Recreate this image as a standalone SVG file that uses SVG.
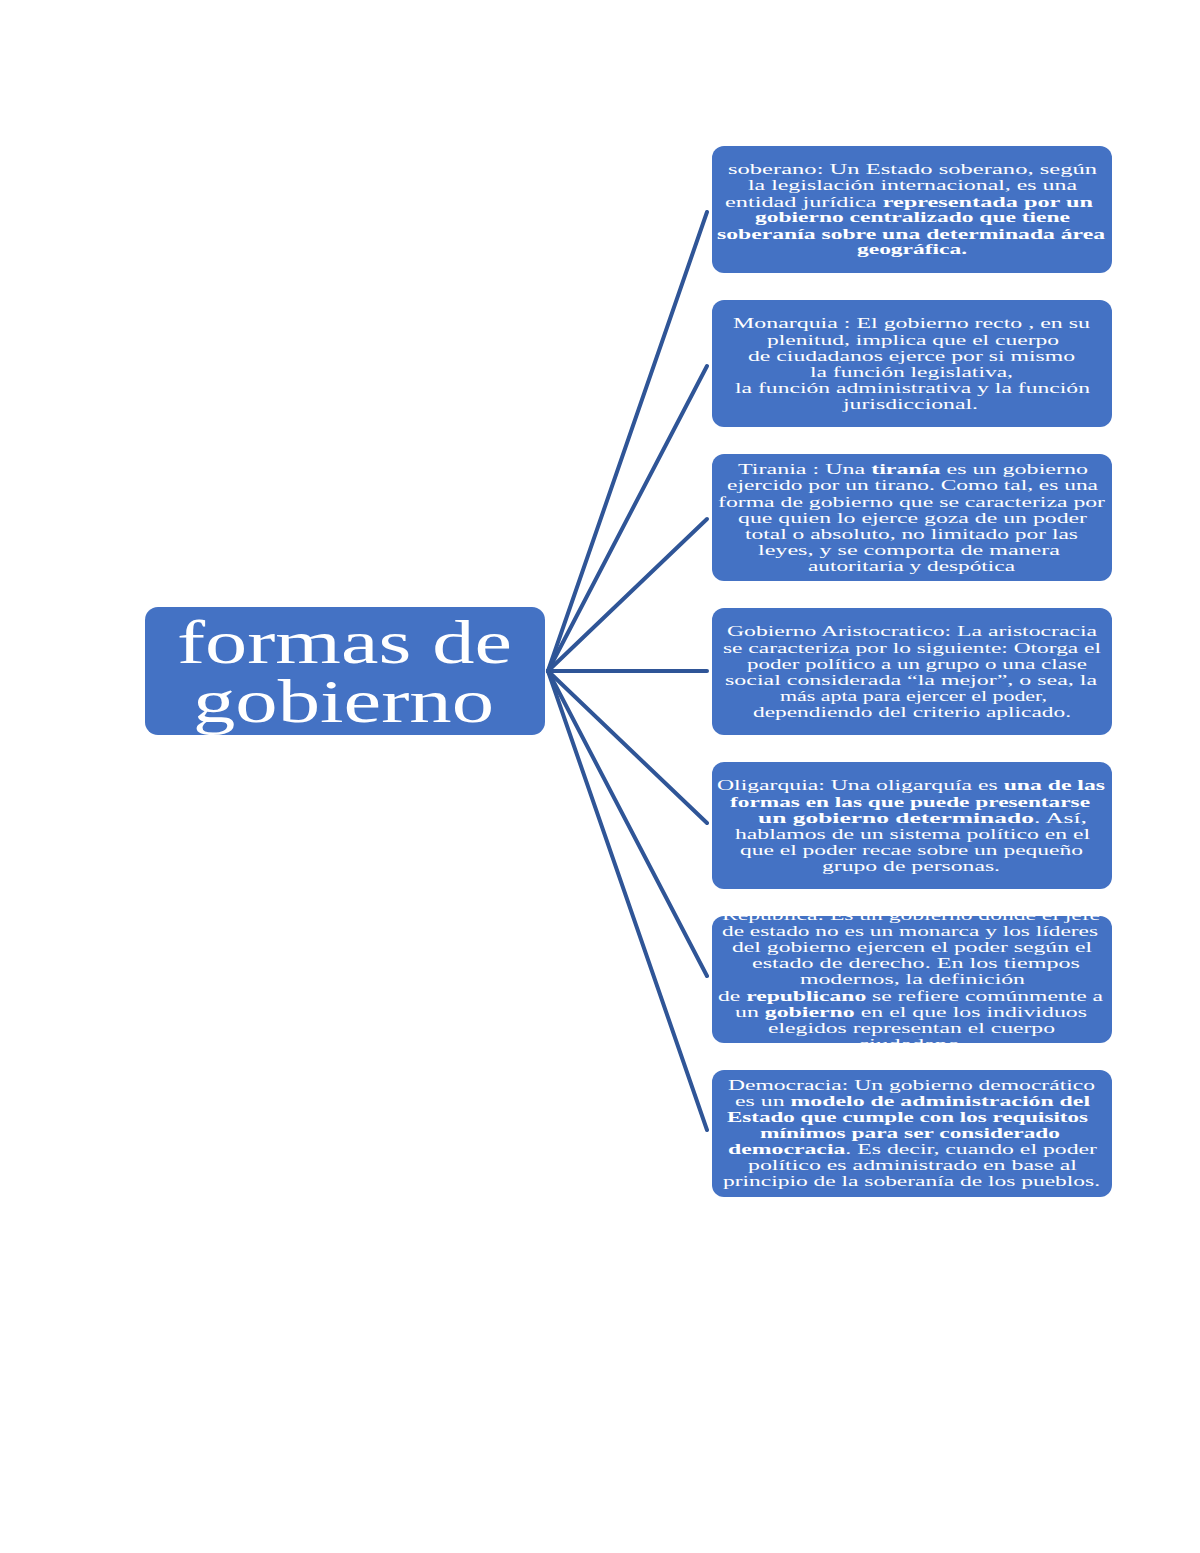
<svg xmlns="http://www.w3.org/2000/svg" width="1200" height="1553" viewBox="0 0 1200 1553">
<style>
.box{fill:#4472C4;}
.conn{stroke:#2F5597;stroke-width:4;fill:none;stroke-linecap:round;}
.t{font-family:"Liberation Serif","Times New Roman",serif;font-size:15.5px;fill:#FFFFFF;text-anchor:start;}
.b{font-weight:bold;}
.big{font-family:"Liberation Serif","Times New Roman",serif;font-size:62px;fill:#FFFFFF;}
</style>
<defs>
<clipPath id="clipRep"><rect x="712" y="916" width="400" height="127" rx="12"/></clipPath>
</defs>
<rect width="1200" height="1553" fill="#FFFFFF"/>
<g id="connectors">
<line class="conn" x1="548" y1="671" x2="707" y2="212"/>
<line class="conn" x1="548" y1="671" x2="707" y2="366"/>
<line class="conn" x1="548" y1="671" x2="707" y2="519"/>
<line class="conn" x1="548" y1="671" x2="707" y2="671"/>
<line class="conn" x1="548" y1="671" x2="707" y2="823"/>
<line class="conn" x1="548" y1="671" x2="707" y2="976"/>
<line class="conn" x1="548" y1="671" x2="707" y2="1130"/>
</g>
<g id="root">
<rect class="box" x="145" y="607" width="400" height="128" rx="13"/>
<text class="big" x="177" y="663" textLength="335" lengthAdjust="spacingAndGlyphs">formas de</text>
<text class="big" x="193" y="722" textLength="301" lengthAdjust="spacingAndGlyphs">gobierno</text>
</g>
<g id="soberano">
<rect class="box" x="712" y="146" width="400" height="127" rx="12"/>
<text class="t" x="728" y="174" textLength="369" lengthAdjust="spacingAndGlyphs">soberano:   Un Estado soberano, según</text>
<text class="t" x="748" y="190" textLength="329" lengthAdjust="spacingAndGlyphs">la legislación internacional, es una</text>
<text class="t" x="725" y="207" textLength="368" lengthAdjust="spacingAndGlyphs">entidad jurídica <tspan class="b">representada por un</tspan></text>
<text class="t b" x="755" y="222" textLength="315" lengthAdjust="spacingAndGlyphs">gobierno centralizado que tiene</text>
<text class="t b" x="717" y="239" textLength="388" lengthAdjust="spacingAndGlyphs">soberanía sobre una determinada área</text>
<text class="t b" x="857" y="254" textLength="110" lengthAdjust="spacingAndGlyphs">geográfica.</text>
</g>
<g id="monarquia">
<rect class="box" x="712" y="300" width="400" height="127" rx="12"/>
<text class="t" x="733" y="328" textLength="357" lengthAdjust="spacingAndGlyphs">Monarquia :  El gobierno recto , en su</text>
<text class="t" x="767" y="345" textLength="292" lengthAdjust="spacingAndGlyphs">plenitud, implica que el cuerpo</text>
<text class="t" x="748" y="361" textLength="327" lengthAdjust="spacingAndGlyphs">de ciudadanos ejerce por si mismo</text>
<text class="t" x="810" y="377" textLength="203" lengthAdjust="spacingAndGlyphs">la función legislativa,</text>
<text class="t" x="735" y="393" textLength="355" lengthAdjust="spacingAndGlyphs">la función administrativa y la función</text>
<text class="t" x="843" y="409" textLength="135" lengthAdjust="spacingAndGlyphs">jurisdiccional.</text>
</g>
<g id="tirania">
<rect class="box" x="712" y="454" width="400" height="127" rx="12"/>
<text class="t" x="738" y="474" textLength="350" lengthAdjust="spacingAndGlyphs">Tirania  : Una <tspan class="b">tiranía</tspan> es un gobierno</text>
<text class="t" x="727" y="490" textLength="371" lengthAdjust="spacingAndGlyphs">ejercido por un tirano. Como tal, es una</text>
<text class="t" x="718" y="507" textLength="387" lengthAdjust="spacingAndGlyphs">forma de gobierno que se caracteriza por</text>
<text class="t" x="738" y="523" textLength="349" lengthAdjust="spacingAndGlyphs">que quien lo ejerce goza de un poder</text>
<text class="t" x="745" y="539" textLength="333" lengthAdjust="spacingAndGlyphs">total o absoluto, no limitado por las</text>
<text class="t" x="758" y="555" textLength="302" lengthAdjust="spacingAndGlyphs">leyes, y se comporta de manera</text>
<text class="t" x="808" y="571" textLength="207" lengthAdjust="spacingAndGlyphs">autoritaria y despótica</text>
</g>
<g id="aristocratico">
<rect class="box" x="712" y="608" width="400" height="127" rx="12"/>
<text class="t" x="727" y="636" textLength="370" lengthAdjust="spacingAndGlyphs">Gobierno Aristocratico: La aristocracia</text>
<text class="t" x="723" y="653" textLength="378" lengthAdjust="spacingAndGlyphs">se caracteriza por lo siguiente: Otorga el</text>
<text class="t" x="747" y="669" textLength="340" lengthAdjust="spacingAndGlyphs">poder político a un grupo o una clase</text>
<text class="t" x="725" y="685" textLength="372" lengthAdjust="spacingAndGlyphs">social considerada “la mejor”, o sea, la</text>
<text class="t" x="780" y="701" textLength="267" lengthAdjust="spacingAndGlyphs">más apta para ejercer el poder,</text>
<text class="t" x="753" y="717" textLength="318" lengthAdjust="spacingAndGlyphs">dependiendo del criterio aplicado.</text>
</g>
<g id="oligarquia">
<rect class="box" x="712" y="762" width="400" height="127" rx="12"/>
<text class="t" x="717" y="790" textLength="388" lengthAdjust="spacingAndGlyphs">Oligarquia: Una oligarquía es <tspan class="b">una de las</tspan></text>
<text class="t b" x="730" y="807" textLength="360" lengthAdjust="spacingAndGlyphs">formas en las que puede presentarse</text>
<text class="t" x="758" y="823" textLength="329" lengthAdjust="spacingAndGlyphs"><tspan class="b">un gobierno determinado</tspan>. Así,</text>
<text class="t" x="735" y="839" textLength="355" lengthAdjust="spacingAndGlyphs">hablamos de un sistema político en el</text>
<text class="t" x="740" y="855" textLength="343" lengthAdjust="spacingAndGlyphs">que el poder recae sobre un pequeño</text>
<text class="t" x="822" y="871" textLength="178" lengthAdjust="spacingAndGlyphs">grupo de personas.</text>
</g>
<g id="republica">
<rect class="box" x="712" y="916" width="400" height="127" rx="12"/>
<g clip-path="url(#clipRep)">
<text class="t" x="722" y="920" textLength="378" lengthAdjust="spacingAndGlyphs">República: Es un gobierno donde el jefe</text>
<text class="t" x="722" y="936" textLength="376" lengthAdjust="spacingAndGlyphs">de estado no es un monarca y los líderes</text>
<text class="t" x="732" y="952" textLength="360" lengthAdjust="spacingAndGlyphs">del gobierno ejercen el poder según el</text>
<text class="t" x="752" y="968" textLength="328" lengthAdjust="spacingAndGlyphs">estado de derecho. En los tiempos</text>
<text class="t" x="800" y="984" textLength="225" lengthAdjust="spacingAndGlyphs">modernos, la definición</text>
<text class="t" x="718" y="1001" textLength="385" lengthAdjust="spacingAndGlyphs">de <tspan class="b">republicano</tspan> se refiere comúnmente a</text>
<text class="t" x="735" y="1017" textLength="352" lengthAdjust="spacingAndGlyphs">un <tspan class="b">gobierno</tspan> en el que los individuos</text>
<text class="t" x="768" y="1033" textLength="287" lengthAdjust="spacingAndGlyphs">elegidos representan el cuerpo</text>
<text class="t" x="858" y="1049" textLength="108" lengthAdjust="spacingAndGlyphs">ciudadano.</text>
</g>
</g>
<g id="democracia">
<rect class="box" x="712" y="1070" width="400" height="127" rx="12"/>
<text class="t" x="728" y="1090" textLength="367" lengthAdjust="spacingAndGlyphs">Democracia: Un gobierno democrático</text>
<text class="t" x="735" y="1106" textLength="355" lengthAdjust="spacingAndGlyphs">es un <tspan class="b">modelo de administración del</tspan></text>
<text class="t b" x="727" y="1122" textLength="361" lengthAdjust="spacingAndGlyphs">Estado que cumple con los requisitos</text>
<text class="t b" x="760" y="1138" textLength="300" lengthAdjust="spacingAndGlyphs">mínimos para ser considerado</text>
<text class="t" x="728" y="1154" textLength="369" lengthAdjust="spacingAndGlyphs"><tspan class="b">democracia</tspan>. Es decir, cuando el poder</text>
<text class="t" x="748" y="1170" textLength="329" lengthAdjust="spacingAndGlyphs">político es administrado en base al</text>
<text class="t" x="723" y="1186" textLength="377" lengthAdjust="spacingAndGlyphs">principio de la soberanía de los pueblos.</text>
</g>
</svg>
